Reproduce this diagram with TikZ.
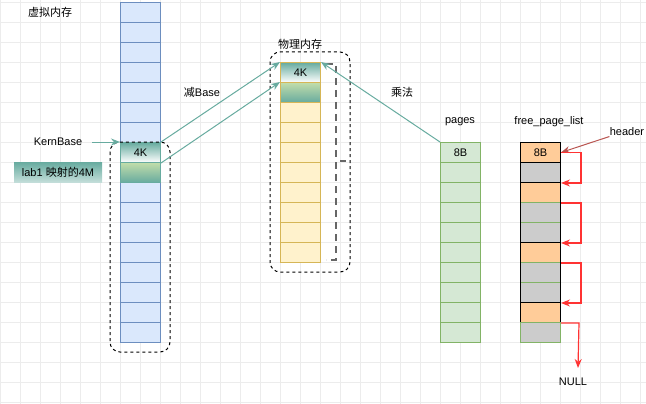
\documentclass[tikz,border=0pt]{standalone}
\usepackage{fontspec}
\setmainfont{Liberation Sans}
\newfontfamily\cjk{Noto Sans CJK SC}
\usetikzlibrary{arrows.meta}
\definecolor{teal1}{HTML}{67AB9F}
\definecolor{vfill}{HTML}{DAE8FC}\definecolor{vline}{HTML}{6C8EBF}
\definecolor{pfill}{HTML}{FFF2CC}\definecolor{pline}{HTML}{D6B656}
\definecolor{gfill}{HTML}{D5E8D4}\definecolor{gline}{HTML}{82B366}
\definecolor{ofill}{HTML}{FFCC99}\definecolor{grfill}{HTML}{CCCCCC}
\definecolor{redl}{HTML}{FF3333}\definecolor{hdr}{HTML}{B85450}
\begin{document}
\begin{tikzpicture}[x=1pt,y=-1pt,font=\fontsize{11}{13}\selectfont,line width=1pt,
 cell/.style={minimum width=40pt,minimum height=20pt,inner sep=0pt,draw,anchor=north west},
 vcell/.style={cell,fill=vfill,draw=vline},
 pcell/.style={cell,fill=pfill,draw=pline},
 gcell/.style={cell,fill=gfill,draw=gline},
 ocell/.style={cell,fill=ofill,draw=black},
 grcell/.style={cell,fill=grfill,draw=gline},
 down/.style={top color=teal1,bottom color=white},
 up/.style={top color=white!70!yellow!60!teal1,bottom color=teal1},
 tarr/.style={draw=teal1,-{Stealth[length=9pt,width=7pt]}},
 rarr/.style={draw=redl,line width=1.2pt,-{Stealth[length=9pt,width=7pt]}},
 dbox/.style={draw,dash pattern=on 3pt off 3pt,rounded corners=10pt},
 lbl/.style={inner sep=0pt}]
\useasboundingbox (0,0) rectangle (646,404);
\foreach \x in {0,20,...,640} \draw[gray!15,line width=0.8pt] (\x,0)--(\x,404);
\foreach \y in {2,22,...,402} \draw[gray!15,line width=0.8pt] (0,\y)--(646,\y);
% virtual
\foreach \i in {0,...,16} \node[vcell] (v\i) at (120,2+20*\i) {};
\node[cell,draw=teal1,down] (v7) at (120,142) {4K};
\node[cell,draw=teal1,up] (v8) at (120,162) {};
\draw[dbox] (110,142) rectangle (170,352);
\node[lbl] (tv) at (50,12) {\cjk 虚拟内存};
\node[lbl] (kb) at (58,142) {KernBase};
\coordinate (kbs) at (92,142);
\draw[tarr] (kbs) -- (v7.north west);
\node[draw=none,top color=teal1,bottom color=white!60!teal1,minimum width=88pt,minimum height=20pt,inner sep=0pt] (lab) at (58,172) {lab1 {\cjk 映射的}4M};
% physical
\foreach \i in {0,...,9} \node[pcell] (p\i) at (280,62+20*\i) {};
\node[cell,draw=pline,down] (p0) at (280,62) {4K};
\node[cell,draw=pline,up] (p1) at (280,82) {};
\draw[dbox] (270,52) rectangle (350,272);
\draw[dash pattern=on 7pt off 5pt,line width=2pt,gray!80!black] (326,64)--(336,64)--(336,260)--(326,260);
\draw[line width=2pt,gray!80!black] (340,161)--(346,161);
\node[lbl] (tp) at (300,44) {\cjk 物理内存};
\draw[tarr] (v7.north east) -- (p0.north west);
\draw[tarr] (v7.south east) -- (p1.north west);
\node[lbl] (jb) at (202,92) {{\cjk 减}Base};
\node[lbl] (cf) at (402,92) {\cjk 乘法};
% pages
\foreach \i in {0,...,9} \node[gcell] (g\i) at (440,142+20*\i) {};
\node[gcell] at (440,142) {8B};
\node[lbl] (tg) at (460,122) {pages};
\draw[tarr] (g0.north west) -- (p0.north east);
% free list
\foreach \i/\s in {0/ocell,1/grcell,2/ocell,3/grcell,4/grcell,5/ocell,6/grcell,7/grcell,8/ocell,9/grcell}
  \node[\s] (f\i) at (520,142+20*\i) {};
\node[ocell] at (520,142) {8B};
\draw (520,142)--(520,322) (560,142)--(560,322);
\node[lbl] (tf) at (549,122) {free\_page\_list};
\node[lbl] (hd) at (627,132) {header};
\draw[draw=hdr,-{Stealth[length=9pt,width=7pt]}] (hd.south west) -- (f0.east);
\draw[rarr] (f0.east) -- ++(20,0) |- (f1.south east);
\draw[rarr] (f2.south east) -- ++(20,0) |- (f4.south east);
\draw[rarr] (f5.south east) -- ++(20,0) |- (f7.south east);
\node[lbl] (nl) at (573,382) {NULL};
\draw[rarr] (f8.south east) -- ++(18,0) -- (578,368);
\end{tikzpicture}
\end{document}
